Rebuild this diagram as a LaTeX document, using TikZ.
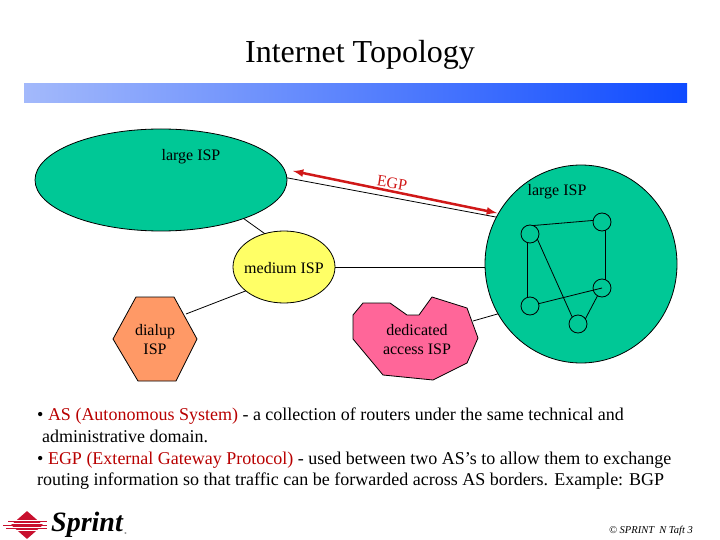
\documentclass[tikz,border=0pt]{standalone}
\usepackage{fontspec}
\setmainfont{Liberation Serif}
\usetikzlibrary{shapes,shapes.geometric,calc,positioning}
\definecolor{ispgreen}{HTML}{00C896}
\definecolor{ispyellow}{HTML}{FFFF66}
\definecolor{isporange}{HTML}{FF9966}
\definecolor{isppink}{HTML}{FF6699}
\definecolor{egpred}{HTML}{D01818}
\definecolor{termred}{HTML}{B80000}
\definecolor{logored}{HTML}{C8102E}
\definecolor{barlight}{HTML}{A3B9FB}
\definecolor{bardark}{HTML}{0F4BFF}
\tikzset{
  link/.style={draw=black,line width=.8pt},
  blob/.style={draw=black,line width=.8pt,inner sep=0pt,outer sep=0pt},
  router/.style={shape=circle,draw=black,line width=.8pt,inner sep=0pt,outer sep=0pt,minimum width=18pt},
  isplabel/.style={font=\fontsize{16}{17}\selectfont,align=center,inner sep=0pt},
}
\begin{document}
\begin{tikzpicture}[x=1pt,y=-1pt]
\useasboundingbox (0,0) rectangle (720,540);
\node[font=\fontsize{32}{36}\selectfont,inner sep=0pt] (title) at (360,55) {Internet Topology};
\path[left color=barlight,right color=bardark] (24,84) rectangle (687,103);
% the five networks
\node[blob,ellipse,fill=ispgreen,minimum width=252pt,minimum height=102pt] (large) at (161,180) {};
\node[blob,ellipse,fill=ispyellow,minimum width=102pt,minimum height=72pt] (medium) at (284,267) {};
\node[blob,ellipse,fill=ispgreen,minimum width=192pt,minimum height=198pt] (big) at (581,264) {};
\draw[blob,fill=isporange] (113,339) -- (136,297) -- (174,297) -- (197,339) -- (176,381) -- (138,381) -- cycle;
\coordinate (dialup) at (186,314);
\draw[blob,fill=isppink] (353,315) -- (363,303) -- (390,303) -- (407,315) -- (419,315) -- (432,297) -- (467,308) -- (478,338) -- (467,363) -- (433,380) -- (383,375) -- (353,339) -- cycle;
\coordinate (dedicated) at (473,321);
\node[isplabel] (largel) at (191,157) {large ISP};
\node[isplabel] (bigl) at (557,192) {large ISP};
\node[isplabel] (mediuml) at (284,268) {medium ISP};
\node[isplabel] (dialupl) at (155,340) {dialup\\[2pt]ISP};
\node[isplabel] (dedicatedl) at (417,339.5) {dedicated\\[2pt]access ISP};
% connectors
\draw[link] (large.1) -- (big.151.6);
\draw[link] (large.-25) -- (medium.120);
\draw[link] (medium.east) -- (big.west |- medium.east);
\draw[link] (medium.212) -- (dialup);
\draw[link] (dedicated) -- (big.211);
% routers
\node[router] (r1) at (530,234) {};
\node[router] (r2) at (602,222) {};
\node[router] (r3) at (602,288) {};
\node[router] (r4) at (530,306) {};
\node[router] (r5) at (578,324) {};
\draw[link] (r1.70) -- (r2.170);
\draw[link] (r1.-110) -- (r4.110);
\draw[link] (r2.-65) -- (r3.65);
\draw[link] (r4.15) -- (r3.center);
\draw[link] (r1.-35) -- (r5.130);
\draw[link] (r3.-120) -- (r5.35);
% EGP
\coordinate (egpa) at (293,171);
\coordinate (egpb) at (497,213);
\draw[<->,>=latex,egpred,line width=2.5pt] (egpa) -- (egpb);
\node[text=egpred,font=\fontsize{16}{17}\selectfont,rotate=-9,inner sep=0pt] (egp) at (392,183) {EGP};
% text
\node[anchor=north west,align=left,inner sep=0pt,font=\fontsize{18}{21.7}\selectfont] (body) at (37,408) {%
  • \textcolor{termred}{AS (Autonomous System)} - a collection of routers under the same technical and\\
  \hspace{5pt}administrative domain.\\
  • \textcolor{termred}{EGP (External Gateway Protocol)} - used between two AS’s to allow them to exchange\\
  routing information so that traffic can be forwarded across AS borders. Example: BGP};
% logo
\node[shape=diamond,fill=logored,inner sep=0pt,minimum width=32pt,minimum height=28pt] (mark) at (27,525) {};
\foreach \yy in {520,523.5,527,530.5}
  \draw[white,line width=.9pt] (2,\yy) -- (44,\yy);
\foreach \yy/\xx in {521.7/8,525.2/3,528.7/6}
  \draw[logored,line width=1pt] (\xx,\yy) -- (47,\yy);
\node[font=\fontsize{28}{30}\selectfont\bfseries\itshape,inner sep=0pt,anchor=west] (sprint) at (51,525) {Sprint};
\node[font=\fontsize{3}{4}\selectfont,inner sep=0pt] (regd) at (125.5,534) {®};
\node[font=\fontsize{10.5}{12}\selectfont\itshape,inner sep=0pt,anchor=east] (foot) at (693,531) {© SPRINT~ N~Taft 3};
\end{tikzpicture}
\end{document}
